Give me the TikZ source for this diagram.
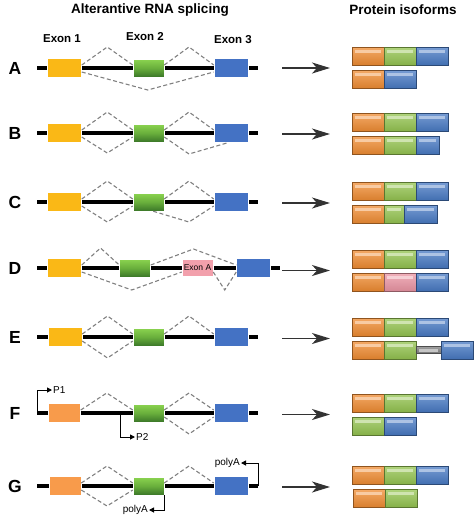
\documentclass[tikz,border=0pt]{standalone}
\usepackage{fontspec}
\setmainfont{Liberation Sans}
\usetikzlibrary{calc,positioning,arrows.meta}
\definecolor{exgold}{RGB}{250,184,22}
\definecolor{exorange}{RGB}{248,155,75}
\definecolor{exblue}{RGB}{68,114,196}
\definecolor{exgreenlt}{RGB}{140,212,80}
\definecolor{exgreenmd}{RGB}{105,175,60}
\definecolor{exgreendk}{RGB}{58,118,40}
\definecolor{expink}{RGB}{242,160,172}
\definecolor{porange}{RGB}{240,140,50}
\definecolor{pgreen}{RGB}{148,196,80}
\definecolor{pblue}{RGB}{72,122,196}
\definecolor{ppink}{RGB}{236,150,165}
\definecolor{pgray}{RGB}{128,128,128}

\begin{document}
\begin{tikzpicture}[x=1pt,y=-1pt,
  title/.style={font=\bfseries\fontsize{13.5}{15}\selectfont},
  exlab/.style={font=\bfseries\fontsize{11.5}{13}\selectfont},
  rowlab/.style={font=\bfseries\fontsize{17.5}{19}\selectfont},
  small/.style={font=\fontsize{10}{11}\selectfont, inner sep=1pt},
  intron/.style={line width=3.2pt},
  exon/.style={minimum width=34pt, minimum height=19pt, inner sep=0pt, draw=white, line width=0.5pt},
  gold/.style={exon, fill=exgold},
  orng/.style={exon, fill=exorange, minimum width=32pt},
  grn/.style={exon, minimum width=31pt, minimum height=18pt, top color=exgreenlt, bottom color=exgreendk, middle color=exgreenmd},
  blu/.style={exon, fill=exblue},
  pnk/.style={exon, fill=expink, minimum width=31pt, minimum height=17pt, font=\fontsize{8.5}{9}\selectfont},
  splice/.style={draw=black!50, line width=1.1pt, dash pattern=on 4pt off 2.5pt},
  bigarrow/.style={draw=black!80, line width=1.7pt, -{Stealth[length=18pt,width=11pt,inset=5pt]}},
  pointer/.style={line width=1pt, -{Triangle[length=5pt,width=5pt]}},
  seg/.style={draw=#1!60!black, line width=0.8pt, top color=#1!75!white, bottom color=#1!90!black,
    minimum width=32pt, minimum height=18pt, inner sep=0pt, outer sep=0pt,
    path picture={\fill[#1!45!white] ([shift={(3pt,-2.5pt)}]path picture bounding box.north west)
      rectangle ([shift={(-3pt,-5.5pt)}]path picture bounding box.north east);}},
]
\useasboundingbox (0,0) rectangle (474,517);
% titles
\node[title] (tl) at (150,10) {Alterantive RNA splicing};
\node[title] (tr) at (403,10) {Protein isoforms};
% rows: letter, intron line, arrow, full-length isoform
\foreach \r/\y/\v/\e in {A/68/68/258, B/133/134/258, C/202/203/258, D/268/270.5/280,
    E/337/338.5/258, F/413/414.5/258, G/486/487/258}{
  \node[rowlab] (L\r) at (15,\y) {\r};
  \coordinate (l\r) at (37,\y);
  \coordinate (r\r) at (\e,\y);
  \draw[intron] (l\r) -- (r\r);
  \coordinate (s\r) at (282,\v);
  \coordinate (e\r) at (330,\v);
  \draw[bigarrow] (s\r) -- (e\r);
  \node[seg=porange] (t\r1) at (368,\v-11.5) {};
  \node[seg=pgreen, right=0pt of t\r1] (t\r2) {};
  \node[seg=pblue, right=0pt of t\r2] (t\r3) {};
}
% exon labels
\node[exlab] (x1) at (62,39) {Exon 1};
\node[exlab] (x2) at (145,37) {Exon 2};
\node[exlab] (x3) at (233,40) {Exon 3};
% A: exon skipping
\node[gold] (A1) at (64.5,68) {};
\node[grn] (A2) at (148.5,68) {};
\node[blu] (A3) at (231,68) {};
\draw[splice] ([yshift=3pt]A1.east) -- ($(A1.east)!.5!(A2.west)+(0,-21)$) -- ([yshift=3pt]A2.west);
\draw[splice] ([yshift=3pt]A2.east) -- ($(A2.east)!.5!(A3.west)+(0,-21)$) -- ([yshift=3pt]A3.west);
\draw[splice] ([yshift=-4pt]A1.east) -- ($(A1.east)!.5!(A3.west)+(0,22)$) -- ([yshift=-4pt]A3.west);
% B: alternative 3' site
\node[gold] (B1) at (64.5,133) {};
\node[grn] (B2) at (148.5,133) {};
\node[blu] (B3) at (231,133) {};
\draw[splice] ([yshift=3pt]B1.east) -- ($(B1.east)!.5!(B2.west)+(0,-21)$) -- ([yshift=3pt]B2.west);
\draw[splice] ([yshift=3pt]B2.east) -- ($(B2.east)!.5!(B3.west)+(0,-21)$) -- ([yshift=3pt]B3.west);
\draw[splice] ([yshift=-4pt]B1.east) -- ($(B1.east)!.5!(B2.west)+(0,20)$) -- ([yshift=-4pt]B2.west);
\draw[splice] ([yshift=-4pt]B2.east) -- ($(B2.east)!.5!(B3.west)+(0,21)$) -- ([xshift=14pt]B3.south west);
% C: alternative 5' site
\node[gold] (C1) at (64.5,202) {};
\node[grn] (C2) at (148.5,202) {};
\node[blu] (C3) at (231,202) {};
\draw[splice] ([yshift=3pt]C1.east) -- ($(C1.east)!.5!(C2.west)+(0,-21)$) -- ([yshift=3pt]C2.west);
\draw[splice] ([yshift=3pt]C2.east) -- ($(C2.east)!.5!(C3.west)+(0,-21)$) -- ([yshift=3pt]C3.west);
\draw[splice] ([yshift=-4pt]C1.east) -- ($(C1.east)!.5!(C2.west)+(0,20)$) -- ([yshift=-4pt]C2.west);
\draw[splice] ([xshift=-11pt]C2.south east) -- ($(C2.east)!.5!(C3.west)+(0,20)$) -- ([yshift=-4pt]C3.west);
% D: mutually exclusive exons
\node[gold] (D1) at (64.5,268) {};
\node[grn] (D2) at (135,268) {};
\node[pnk] (DA) at (197.5,268) {Exon A};
\node[blu] (D3) at (253.5,268) {};
\draw[splice] ([yshift=3pt]D1.east) -- ($(D1.east)!.5!(D2.west)+(0,-20)$) -- ([yshift=3pt]D2.west);
\draw[splice] ([yshift=3pt]D2.east) -- ($(D2.east)!.5!(D3.west)+(0,-19)$) -- ([yshift=3pt]D3.west);
\draw[splice] ([yshift=-4pt]D1.east) -- ($(D1.east)!.5!(DA.west)+(0,22)$) -- ([yshift=-4pt]DA.west);
\draw[splice] ([yshift=-4pt]DA.east) -- ($(DA.east)!.5!(D3.west)+(0,22)$) -- ([yshift=-4pt]D3.west);
% E: intron retention
\node[gold] (E1) at (65,337) {};
\node[grn] (E2) at (148.5,337) {};
\node[blu] (E3) at (231,337) {};
\draw[splice] ([yshift=3pt]E1.east) -- ($(E1.east)!.5!(E2.west)+(0,-21)$) -- ([yshift=3pt]E2.west);
\draw[splice] ([yshift=3pt]E2.east) -- ($(E2.east)!.5!(E3.west)+(0,-21)$) -- ([yshift=3pt]E3.west);
\draw[splice] ([yshift=-4pt]E1.east) -- ($(E1.east)!.5!(E2.west)+(0,21)$) -- ([yshift=-4pt]E2.west);
% F: alternative promoters
\node[orng] (F1) at (64.5,413) {};
\node[grn] (F2) at (148.5,413) {};
\node[blu] (F3) at (231,413) {};
\draw[splice] ([yshift=3pt]F1.east) -- ($(F1.east)!.5!(F2.west)+(0,-20)$) -- ([yshift=3pt]F2.west);
\draw[splice] ([yshift=3pt]F2.east) -- ($(F2.east)!.5!(F3.west)+(0,-20)$) -- ([yshift=3pt]F3.west);
\draw[splice] ([yshift=-4pt]F2.east) -- ($(F2.east)!.5!(F3.west)+(0,21)$) -- ([yshift=-4pt]F3.west);
\node[small, anchor=west] (P1) at (52,390) {P1};
\draw[pointer] (lF) |- (P1.west);
\coordinate (q2) at (120,413);
\node[small, anchor=west] (P2) at (135,437) {P2};
\draw[pointer] (q2) |- (P2.west);
% G: alternative polyadenylation
\node[orng] (G1) at (65,486) {};
\node[grn] (G2) at (148.5,486) {};
\node[blu] (G3) at (231,486) {};
\draw[splice] ([yshift=3pt]G1.east) -- ($(G1.east)!.5!(G2.west)+(0,-20)$) -- ([yshift=3pt]G2.west);
\draw[splice] ([yshift=3pt]G2.east) -- ($(G2.east)!.5!(G3.west)+(0,-20)$) -- ([yshift=3pt]G3.west);
\draw[splice] ([yshift=-4pt]G1.east) -- ($(G1.east)!.5!(G2.west)+(0,20)$) -- ([yshift=-4pt]G2.west);
\node[small, anchor=east] (pA1) at (149,510) {polyA};
\draw[pointer] (G2.south east) |- (pA1.east);
\node[small, anchor=east] (pA2) at (241,463) {polyA};
\draw[pointer] (rG) |- (pA2.east);
% second isoforms
\node[seg=porange] (iA1) at (368,79.5) {};
\node[seg=pblue, right=0pt of iA1] (iA2) {};
\node[seg=porange] (iB1) at (368,145.5) {};
\node[seg=pgreen, right=0pt of iB1] (iB2) {};
\node[seg=pblue, right=0pt of iB2, minimum width=23pt] (iB3) {};
\node[seg=porange] (iC1) at (368,214.5) {};
\node[seg=pgreen, right=0pt of iC1, minimum width=20pt] (iC2) {};
\node[seg=pblue, right=0pt of iC2, minimum width=33pt] (iC3) {};
\node[seg=porange] (iD1) at (368,282) {};
\node[seg=ppink, right=0pt of iD1] (iD2) {};
\node[seg=pblue, right=0pt of iD2] (iD3) {};
\node[seg=porange] (iE1) at (368,350) {};
\node[seg=pgreen, right=0pt of iE1] (iE2) {};
\node[seg=pgray, right=0pt of iE2, minimum width=25pt, minimum height=7pt] (iE3) {};
\node[seg=pblue, right=0pt of iE3] (iE4) {};
\node[seg=pgreen] (iF1) at (368,426) {};
\node[seg=pblue, right=0pt of iF1] (iF2) {};
\node[seg=porange] (iG1) at (369,498.5) {};
\node[seg=pgreen, right=0pt of iG1] (iG2) {};
\end{tikzpicture}
\end{document}
